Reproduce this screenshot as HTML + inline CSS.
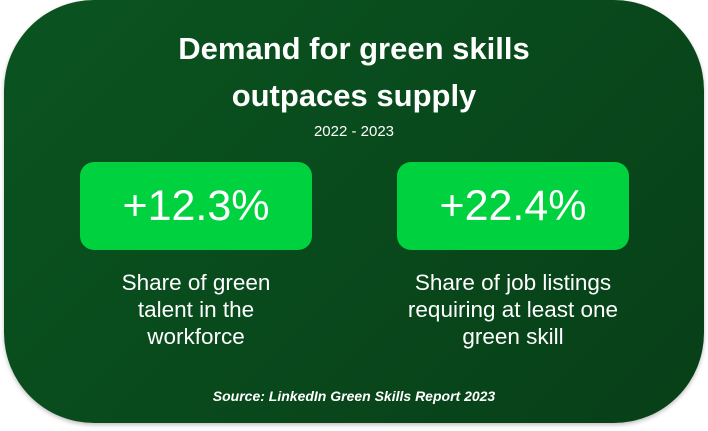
<!DOCTYPE html><html><head><style>
body{margin:0;width:708px;height:431px;background:#fff;overflow:hidden;font-family:"Liberation Sans",sans-serif}
.card{position:absolute;left:4px;top:0;width:700px;height:423px;border-radius:90px;background:linear-gradient(135deg,#0a5420,#094a1c 50%,#083f18);box-shadow:0 2px 4px rgba(0,0,0,.25)}
.t{position:absolute;left:0;width:708px;text-align:center;color:#fff}
.box{position:absolute;top:162px;width:232px;height:88px;border-radius:14px;background:#00d13f;color:#fff;font-size:43px;text-align:center;line-height:88px}
.d{position:absolute;width:320px;text-align:center;color:#fff;font-size:22.5px;line-height:27px}
</style></head><body>
<div class="card"></div>
<div class="t" style="top:25px;font-size:31px;font-weight:bold;line-height:47px">Demand for green skills<br>outpaces supply</div>
<div class="t" style="top:123px;font-size:15px">2022 - 2023</div>
<div class="box" style="left:80px">+12.3%</div>
<div class="box" style="left:397px">+22.4%</div>
<div class="d" style="left:36px;top:269px">Share of green<br>talent in the<br>workforce</div>
<div class="d" style="left:353px;top:269px">Share of job listings<br>requiring at least one<br>green skill</div>
<div class="t" style="top:388px;font-size:14px;font-weight:bold;font-style:italic">Source: LinkedIn Green Skills Report 2023</div>
</body></html>
